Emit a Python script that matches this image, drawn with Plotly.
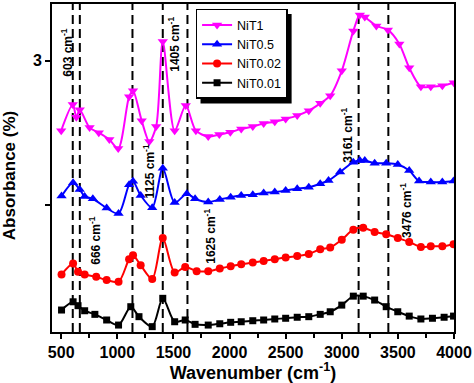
import plotly.graph_objects as go

# ---------------- data ----------------
nit1_x = [500, 603, 635, 665, 753, 835, 929, 1008, 1105, 1140, 1217, 1285, 1346, 1405, 1511, 1610,
          1700, 1810, 1909, 2007, 2104, 2207, 2304, 2403, 2500, 2603, 2706, 2808, 2897, 3000,
          3103, 3161, 3205, 3308, 3411, 3513, 3601, 3705, 3793, 3896, 3998]
nit1_y = [2.517, 2.697, 2.609, 2.662, 2.538, 2.503, 2.455, 2.393, 2.752, 2.793, 2.586, 2.441, 2.545,
          3.133, 2.517, 2.690, 2.517, 2.476, 2.490, 2.506, 2.529, 2.545, 2.566, 2.579, 2.598, 2.621,
          2.655, 2.706, 2.759, 2.931, 3.207, 3.317, 3.303, 3.241, 3.214, 3.117, 2.952, 2.821, 2.821,
          2.828, 2.848]

nit05_x = [503, 606, 665, 709, 782, 905, 1011, 1105, 1140, 1208, 1311, 1405, 1511, 1619, 1693, 1810,
           1913, 2010, 2104, 2207, 2304, 2403, 2500, 2603, 2706, 2808, 2882, 2985, 3103, 3161, 3205,
           3293, 3396, 3499, 3601, 3689, 3793, 3896, 3996]
nit05_y = [2.064, 2.157, 2.110, 2.062, 2.046, 1.981, 1.943, 2.143, 2.166, 2.069, 1.984, 2.257, 2.019,
           2.081, 2.046, 2.023, 2.041, 2.057, 2.069, 2.074, 2.085, 2.092, 2.103, 2.115, 2.126, 2.150,
           2.172, 2.230, 2.299, 2.310, 2.310, 2.292, 2.292, 2.283, 2.241, 2.168, 2.161, 2.161, 2.168]

nit002_x = [503, 606, 650, 709, 812, 905, 1011, 1105, 1140, 1208, 1311, 1405, 1511, 1605, 1707, 1810,
            1913, 2010, 2104, 2207, 2304, 2403, 2500, 2603, 2706, 2808, 2897, 3000, 3103, 3191, 3293,
            3396, 3499, 3601, 3705, 3793, 3896, 3996]
nit002_y = [1.522, 1.598, 1.540, 1.522, 1.506, 1.483, 1.471, 1.628, 1.655, 1.586, 1.490, 1.774, 1.536,
            1.574, 1.545, 1.545, 1.563, 1.579, 1.593, 1.605, 1.616, 1.628, 1.639, 1.650, 1.664, 1.697,
            1.708, 1.763, 1.832, 1.846, 1.816, 1.800, 1.774, 1.747, 1.712, 1.717, 1.717, 1.731]

nit001_x = [503, 606, 650, 709, 800, 905, 1011, 1120, 1193, 1311, 1405, 1511, 1605, 1693, 1810, 1913,
            2010, 2104, 2207, 2304, 2403, 2500, 2603, 2706, 2808, 2897, 3000, 3103, 3191, 3293, 3396,
            3499, 3601, 3705, 3808, 3912, 3996]
nit001_y = [1.276, 1.333, 1.306, 1.271, 1.246, 1.207, 1.172, 1.299, 1.230, 1.161, 1.357, 1.195, 1.207,
            1.177, 1.172, 1.181, 1.191, 1.195, 1.202, 1.207, 1.214, 1.219, 1.226, 1.230, 1.246, 1.264,
            1.310, 1.372, 1.372, 1.345, 1.299, 1.264, 1.234, 1.214, 1.219, 1.226, 1.234]

series_names = ["NiT1", "NiT0.5", "NiT0.02", "NiT0.01"]

# dashed reference lines and their labels
line_x = [603, 666, 1135, 1405, 1625, 3150, 3415]
label_text = ["603 cm<sup>-1</sup>", "666 cm<sup>-1</sup>", "1125 cm<sup>-1</sup>",
              "1405 cm<sup>-1</sup>", "1625 cm<sup>-1</sup>", "3161 cm<sup>-1</sup>",
              "3476 cm<sup>-1</sup>"]
label_x = [550, 806, 1274, 1504, 1830, 3039, 3578]
label_y = [3.055, 1.752, 2.234, 3.117, 1.786, 2.483, 1.966]

x_ticks = [500, 1000, 1500, 2000, 2500, 3000, 3500, 4000]
y_ticks = [2, 3]
y_ticktext = [" ", "3"]

FONT = "Liberation Sans, Arial, sans-serif"

fig = go.Figure()
styles = [
    ("#FF00FF", "triangle-down", 9),
    ("#0000FF", "triangle-up", 9),
    ("#FF0000", "circle", 8),
    ("#000000", "square", 7),
]
data = [(nit1_x, nit1_y), (nit05_x, nit05_y), (nit002_x, nit002_y), (nit001_x, nit001_y)]
for (xs, ys), name, (col, sym, sz) in zip(data, series_names, styles):
    fig.add_trace(go.Scatter(
        x=xs, y=ys, name=name, mode="lines+markers",
        line=dict(color=col, width=2, shape="spline", smoothing=0.8),
        marker=dict(color=col, symbol=sym, size=sz),
    ))

for lx in line_x:
    fig.add_shape(type="line", x0=lx, x1=lx, xref="x", y0=0, y1=1, yref="paper",
                  line=dict(color="black", width=2, dash="9px,5px"), layer="below")

for t, ax_, ay_ in zip(label_text, label_x, label_y):
    fig.add_annotation(x=ax_, y=ay_, text="<b>" + t + "</b>", textangle=-90, showarrow=False,
                       font=dict(family=FONT, size=12, color="black"))

# y-axis title (as annotation for exact vertical placement)
fig.add_annotation(xref="paper", yref="paper", x=0, y=0.475, xanchor="center", yanchor="middle",
                   xshift=-43, text="<b>Absorbance (%)</b>", textangle=-90, showarrow=False,
                   font=dict(family=FONT, size=17, color="black"))

# drop shadow behind the legend box (legend box ~197..289 x 7..97 px, shadow offset 5 px)
fig.add_shape(type="rect", xref="paper", yref="paper",
              x0=(202 - 52) / 406, x1=(294 - 52) / 406,
              y0=(332 - 102) / 330, y1=(332 - 12) / 330,
              fillcolor="black", line=dict(width=0), layer="above")

fig.update_layout(
    width=474, height=383,
    margin=dict(l=52, r=16, t=2, b=51),
    paper_bgcolor="white", plot_bgcolor="white",
    font=dict(family=FONT, color="black"),
    showlegend=True,
    legend=dict(x=(197 - 52) / 406, y=(332 - 7) / 330, xanchor="left", yanchor="top",
                bgcolor="white", bordercolor="black", borderwidth=1.5,
                font=dict(family=FONT, size=12.5, color="black"),
                tracegroupgap=0, itemwidth=30),
)
fig.update_xaxes(
    range=[418, 4000], tickvals=x_ticks, showgrid=False, zeroline=False,
    showline=True, linecolor="black", linewidth=2, mirror=True,
    ticks="outside", ticklen=5, tickwidth=2, tickcolor="black", ticklabeloverflow="allow",
    tickfont=dict(family=FONT, size=16, color="black", weight="bold"),
    minor=dict(dtick=250, tick0=0, ticks="outside", ticklen=4, tickwidth=1.5, tickcolor="black"),
    title=dict(text="<b>Wavenumber (cm<sup>-1</sup>)</b>", font=dict(family=FONT, size=18), standoff=6),
)
fig.update_yaxes(
    range=[1.124, 3.393], tickvals=y_ticks, ticktext=y_ticktext, showgrid=False, zeroline=False,
    showline=True, linecolor="black", linewidth=2, mirror=True,
    ticks="outside", ticklen=5, tickwidth=2, tickcolor="black",
    tickfont=dict(family=FONT, size=16, color="black", weight="bold"),
)

fig.write_html("out.html")
